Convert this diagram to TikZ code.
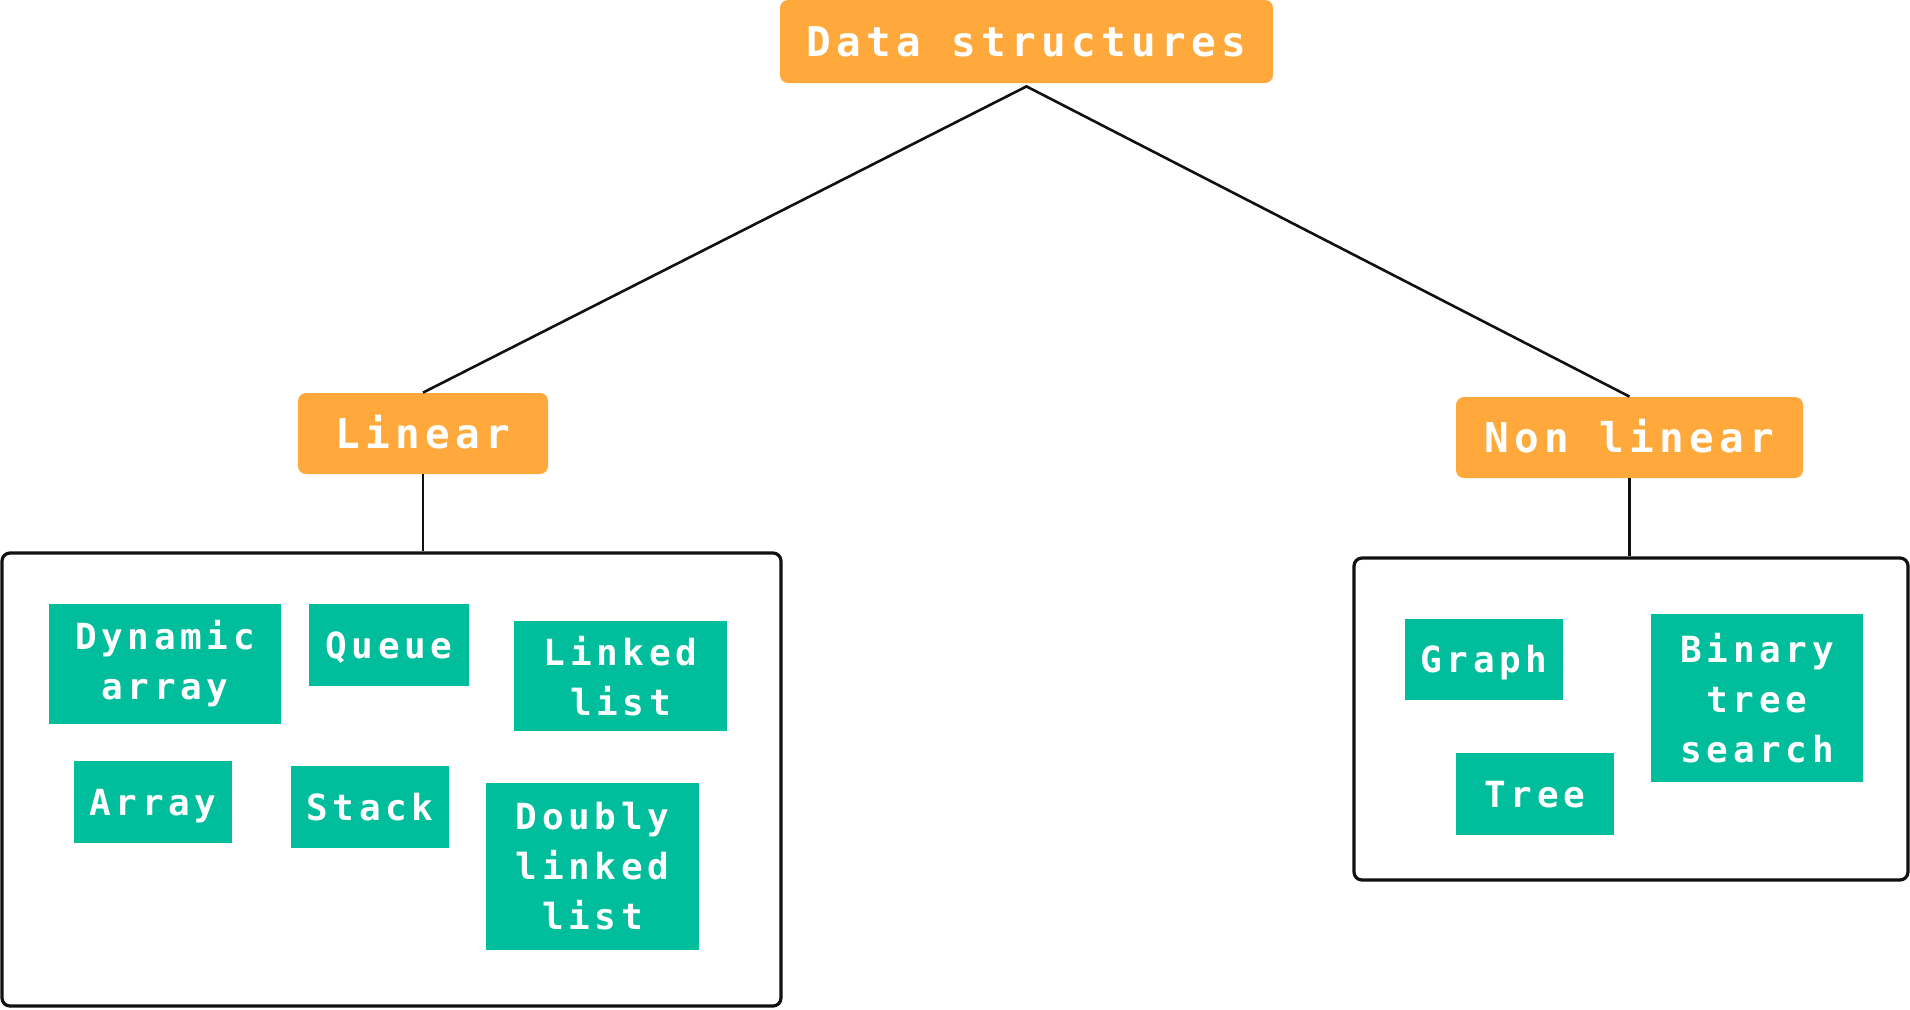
\documentclass[tikz,border=0pt]{standalone}
\usepackage{fontspec}
\newfontfamily\labelfont{DejaVu Sans Mono}[LetterSpace=13]
\definecolor{catorange}{HTML}{FFA93C}
\definecolor{itemteal}{HTML}{00BD9C}
\definecolor{ink}{HTML}{111111}
\tikzset{
  category/.style={fill=catorange, rounded corners=4pt, inner sep=0pt,
    text=white, font=\labelfont\bfseries\fontsize{20.5}{25}\selectfont,
    text height=15pt, text depth=0pt},
  item/.style={fill=itemteal, inner sep=0pt, text=white, align=center,
    font=\labelfont\bfseries\fontsize{18}{25}\selectfont},
  oneline/.style={text height=13.1pt, text depth=0pt},
  group/.style={draw=ink, line width=1.6pt, rounded corners=4pt, inner sep=0pt},
  link/.style={draw=ink, line width=1.3pt}
}
\begin{document}
\begin{tikzpicture}[x=0.5pt, y=-0.5pt]
\useasboundingbox (0,0) rectangle (1910,1009);

% categories
\node[category, minimum width=246.5pt, minimum height=41.5pt] (ds) at (1026.5,41.5) {Data structures};
\node[category, minimum width=125pt, minimum height=40.5pt] (lin) at (423,433.5) {Linear};
\node[category, minimum width=173.5pt, minimum height=40.5pt] (nonlin) at (1629.5,437.5) {Non linear};

% group frames
\node[group, minimum width=389.5pt, minimum height=226.5pt] (lingroup) at (391.5,779.5) {};
\node[group, minimum width=277pt, minimum height=161pt] (nlgroup) at (1631,719) {};

% linear structures
\node[item, minimum width=116pt, minimum height=60pt] (dyn) at (165,664) {Dynamic\\array};
\node[item, oneline, minimum width=80pt, minimum height=41pt] (queue) at (389,645) {Queue};
\node[item, minimum width=106.5pt, minimum height=55pt] (linked) at (620.5,676) {Linked\\list};
\node[item, oneline, minimum width=79pt, minimum height=41pt] (array) at (153,802) {Array};
\node[item, oneline, minimum width=79pt, minimum height=41pt] (stack) at (370,807) {Stack};
\node[item, minimum width=106.5pt, minimum height=83.5pt] (doubly) at (592.5,866.5) {Doubly\\linked\\list};

% non linear structures
\node[item, oneline, minimum width=79pt, minimum height=40.5pt] (graph) at (1484,659.5) {Graph};
\node[item, oneline, minimum width=79pt, minimum height=41pt] (tree) at (1535,794) {Tree};
\node[item, minimum width=106pt, minimum height=84pt] (bst) at (1757,698) {Binary\\tree\\search};

% connectors
\draw[link] (lin.north) -- ([yshift=-1.5pt]ds.south) -- (nonlin.north);
\draw[link] (lin.south) -- (lin.south |- lingroup.north);
\draw[link] (nonlin.south) -- (nonlin.south |- nlgroup.north);
\end{tikzpicture}
\end{document}
